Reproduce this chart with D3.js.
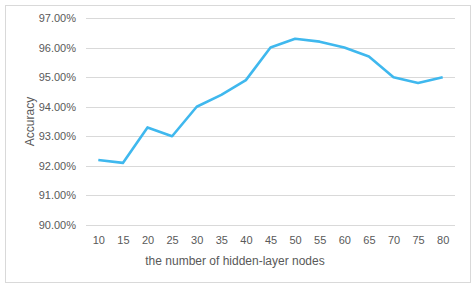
<!DOCTYPE html>
<html>
<head>
<meta charset="utf-8">
<script src="https://cdn.jsdelivr.net/npm/d3@7"></script>
<style>
  body { margin: 0; background: #fff; }
  svg text { font-family: "Liberation Sans", Arial, sans-serif; fill: #595959; }
</style>
</head>
<body>
<div id="chart"></div>
<script>
// hidden-layer node counts and the accuracy
const nodes = [10, 15, 20, 25, 30, 35, 40, 45, 50, 55, 60, 65, 70, 75, 80];
const accuracy = [92.2, 92.1, 93.3, 93.0, 94.0, 94.4, 94.9, 96.0, 96.3, 96.2, 96.0, 95.7, 95.0, 94.8, 95.0];
const yTicks = [90, 91, 92, 93, 94, 95, 96, 97];

const width = 474, height = 287;
const margin = {top: 18, right: 19, bottom: 62, left: 86};

const svg = d3.select("#chart").append("svg")
    .attr("width", width)
    .attr("height", height);

// outer frame
svg.append("rect")
    .attr("x", 5.5).attr("y", 5.5)
    .attr("width", 465).attr("height", 277)
    .attr("fill", "#fff")
    .attr("stroke", "#d9d9d9");

const x = d3.scalePoint()
    .domain(nodes)
    .range([margin.left, width - margin.right])
    .padding(0.5);

const y = d3.scaleLinear()
    .domain([90, 97])
    .range([height - margin.bottom - 0, margin.top]);

// gridlines
svg.append("g")
    .selectAll("line")
    .data(yTicks)
    .join("line")
    .attr("x1", margin.left)
    .attr("x2", width - margin.right)
    .attr("y1", d => Math.round(y(d)) + 0.5)
    .attr("y2", d => Math.round(y(d)) + 0.5)
    .attr("stroke", "#d9d9d9")
    .attr("stroke-width", 1);

// y axis labels
const yAxis = svg.append("g")
    .attr("transform", `translate(${margin.left}, 0)`)
    .call(d3.axisLeft(y).tickValues(yTicks).tickSize(0).tickPadding(10).tickFormat(d => d.toFixed(2) + "%"));
yAxis.select(".domain").remove();
yAxis.selectAll("text").style("font-size", "11px").style("font-family", null);

// x axis labels
const xAxis = svg.append("g")
    .attr("transform", `translate(0, ${height - margin.bottom})`)
    .call(d3.axisBottom(x).tickSize(0).tickPadding(11));
xAxis.select(".domain").remove();
xAxis.selectAll("text").style("font-size", "11px").style("font-family", null);

// axis titles
svg.append("text")
    .attr("x", 235)
    .attr("y", 265)
    .attr("text-anchor", "middle")
    .style("font-size", "12px")
    .text("the number of hidden-layer nodes");

svg.append("text")
    .attr("transform", `translate(34, ${(margin.top + height - margin.bottom) / 2}) rotate(-90)`)
    .attr("text-anchor", "middle")
    .style("font-size", "12px")
    .text("Accuracy");

// the line
const line = d3.line()
    .x((d, i) => x(nodes[i]))
    .y(d => y(d));

svg.append("path")
    .datum(accuracy)
    .attr("d", line)
    .attr("fill", "none")
    .attr("stroke", "#3fb8ee")
    .attr("stroke-width", 2.6)
    .attr("stroke-linejoin", "round");
</script>
</body>
</html>
